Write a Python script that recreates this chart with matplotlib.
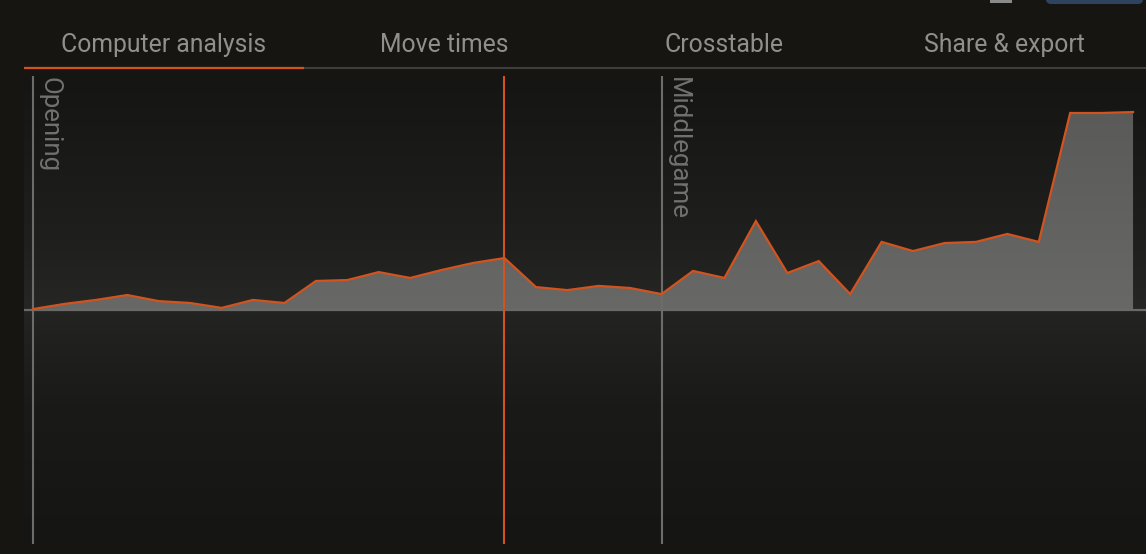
import numpy as np
import matplotlib
matplotlib.use("Agg")
import matplotlib.pyplot as plt
from matplotlib.colors import LinearSegmentedColormap
from matplotlib.patches import Rectangle, FancyBboxPatch

# ---- data -------------------------------------------------------------
moves = list(range(36))
advantage = [0.004, 0.026, 0.043, 0.064, 0.038, 0.030, 0.009, 0.043, 0.030,
             0.124, 0.128, 0.162, 0.137, 0.171, 0.201, 0.222, 0.098, 0.085,
             0.103, 0.094, 0.068, 0.167, 0.137, 0.380, 0.158, 0.209, 0.068,
             0.291, 0.252, 0.286, 0.291, 0.325, 0.291, 0.842, 0.842, 0.846]
phase_labels = ["Opening", "Middlegame"]
phase_moves = [0, 20]
current_move = 15
tabs = ["Computer analysis", "Move times", "Crosstable", "Share & export"]

# ---- style ------------------------------------------------------------
W, H = 1146, 554
PAGE = "#161512"
ORANGE = "#d2531d"
GRID = "#6c6c6a"
FONT = ["Roboto", "DejaVu Sans"]

fig = plt.figure(figsize=(W / 100, H / 100), dpi=100, facecolor=PAGE)

def px(x0, y0, x1, y1):
    return [x0 / W, 1 - y1 / H, (x1 - x0) / W, (y1 - y0) / H]

# tabs header
hdr = fig.add_axes([0, 0, 1, 1], facecolor="none")
hdr.set_xlim(0, W)
hdr.set_ylim(H, 0)
hdr.axis("off")
for i, t in enumerate(tabs):
    hdr.text(164 + 280 * i, 52, t, ha="center", va="baseline", fontsize=17.8,
             color="#8f8f8d", family=FONT, fontweight="normal")
hdr.plot([24, 1146], [68, 68], color="#3e3e3c", lw=1.5, solid_capstyle="butt")
hdr.plot([24, 304], [68, 68], color=ORANGE, lw=1.6, solid_capstyle="butt")
# partial ui widgets at the top edge
hdr.add_patch(Rectangle((990, -2), 22, 5, color="#8a8a88", lw=0))
hdr.add_patch(FancyBboxPatch((1046, -10), 97, 14, boxstyle="round,pad=0,rounding_size=5",
                             color="#2d4360", lw=0))

# chart axes
ax = fig.add_axes(px(24, 76, 1146, 544))
ax.set_facecolor(PAGE)
x0 = -9 / 31.43
x1 = 1113 / 31.43
ax.set_xlim(x0, x1)
ax.set_ylim(-1, 1)
ax.axis("off")

# background gradient (vertical)
stops = [(0.0, "#151513"), (0.30, "#1a1a18"), (0.49, "#232321"),
         (0.505, "#262624"), (0.65, "#1f1f1d"), (1.0, "#151513")]
bg_cmap = LinearSegmentedColormap.from_list("bg", stops)
grad = np.linspace(0, 1, 512).reshape(-1, 1)
ax.imshow(grad, cmap=bg_cmap, extent=[x0, x1, 1, -1], aspect="auto",
          origin="upper", zorder=0, interpolation="bilinear")
ax.set_ylim(-1, 1)

# area fill with subtle gradient
poly = ax.fill_between(moves, 0, advantage, facecolor="none", edgecolor="none", zorder=1)
fill_cmap = LinearSegmentedColormap.from_list("fill", ["#5a5a58", "#686866"])
fg = np.linspace(0, 1, 256).reshape(-1, 1)
im = ax.imshow(fg, cmap=fill_cmap, extent=[moves[0], moves[-1], 0, max(advantage)],
               aspect="auto", origin="upper", zorder=1)
im.set_clip_path(poly.get_paths()[0], transform=ax.transData)
ax.set_xlim(x0, x1)
ax.set_ylim(-1, 1)

# zero line
ax.axhline(0, color="#6a6a68", lw=1.6, zorder=2)

# phase dividers
for lab, m in zip(phase_labels, phase_moves):
    ax.axvline(m, color=GRID, lw=1.5, zorder=3)
    ax.annotate(lab, xy=(m, 1), xycoords=("data", "axes fraction"),
                xytext=(3, -1), textcoords="offset points", rotation=-90,
                ha="left", va="top", fontsize=18.6, color="#71716f",
                family=FONT, fontweight="normal", zorder=3)

# current move
ax.axvline(current_move, color=ORANGE, lw=1.5, zorder=3)

# advantage line
ax.plot(moves, advantage, color=ORANGE, lw=1.6, zorder=4, solid_joinstyle="miter")

fig.savefig("out.png", dpi=100, facecolor=PAGE)
